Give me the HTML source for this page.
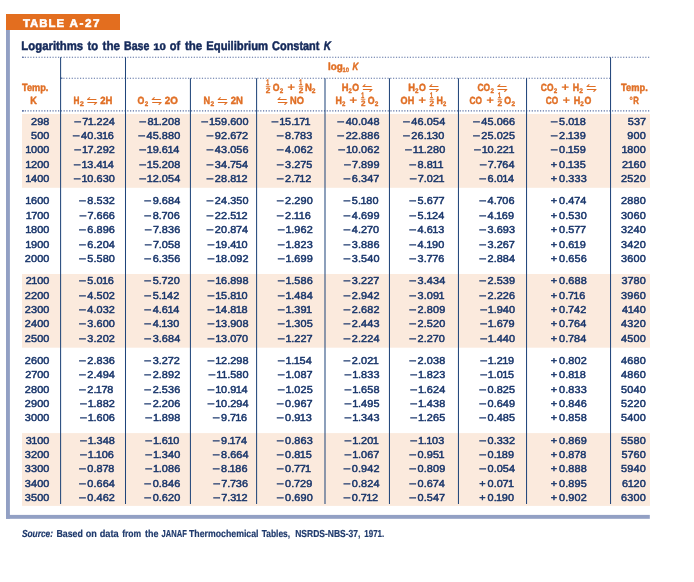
<!DOCTYPE html>
<html lang="en"><head><meta charset="utf-8"><title>Table A-27</title>
<style>
html,body{margin:0;padding:0;background:#fff}
body{width:694px;height:582px;overflow:hidden}
svg{display:block}
text{white-space:pre;text-rendering:geometricPrecision}
.t0{font-family:'Liberation Sans',sans-serif;font-size:11.4px;fill:#fff;font-weight:bold;stroke:#fff;stroke-width:0.55px;stroke-linejoin:round;letter-spacing:0.957px;}
.t1{font-family:'Liberation Sans',sans-serif;font-size:11.4px;fill:#fff;font-weight:bold;stroke:#fff;stroke-width:0.55px;stroke-linejoin:round;letter-spacing:1.454px;}
.t2{font-family:'Liberation Sans',sans-serif;font-size:12.5px;fill:#14295A;font-weight:bold;stroke:#14295A;stroke-width:0.5px;stroke-linejoin:round;}
.t3{font-family:'Liberation Sans',sans-serif;font-size:9.6px;fill:#14295A;font-weight:bold;stroke:#14295A;stroke-width:0.4px;stroke-linejoin:round;}
.t4{font-family:'Liberation Sans',sans-serif;font-size:12.5px;fill:#14295A;font-weight:bold;font-style:italic;stroke:#14295A;stroke-width:0.5px;stroke-linejoin:round;}
.t5{font-family:'Liberation Sans',sans-serif;font-size:10.4px;fill:#E06F25;font-weight:bold;stroke:#E06F25;stroke-width:0.45px;stroke-linejoin:round;}
.t6{font-family:'Liberation Sans',sans-serif;font-size:6.7px;fill:#E06F25;font-weight:bold;stroke:#E06F25;stroke-width:0.3px;stroke-linejoin:round;}
.t7{font-family:'DejaVu Sans',sans-serif;font-size:13.1px;fill:#E06F25;font-weight:normal;stroke:#E06F25;stroke-width:0.15px;stroke-linejoin:round;}
.t8{font-family:'Liberation Sans',sans-serif;font-size:8.0px;fill:#E06F25;font-weight:bold;stroke:#E06F25;stroke-width:0.4px;stroke-linejoin:round;}
.t9{font-family:'Liberation Sans',sans-serif;font-size:7.8px;fill:#E06F25;font-weight:bold;stroke:#E06F25;stroke-width:0.3px;stroke-linejoin:round;}
.t10{font-family:'Liberation Sans',sans-serif;font-size:11.5px;fill:#E06F25;font-weight:bold;}
.t11{font-family:'Liberation Sans',sans-serif;font-size:6.4px;fill:#E06F25;font-weight:bold;stroke:#E06F25;stroke-width:0.3px;stroke-linejoin:round;}
.t12{font-family:'Liberation Sans',sans-serif;font-size:10.4px;fill:#E06F25;font-weight:bold;font-style:italic;stroke:#E06F25;stroke-width:0.45px;stroke-linejoin:round;}
.t13{font-family:'Liberation Sans',sans-serif;font-size:10.4px;fill:#E06F25;font-weight:bold;stroke:#E06F25;stroke-width:0.3px;stroke-linejoin:round;}
.t14{font-family:'Liberation Sans',sans-serif;font-size:10.2px;fill:#1E396C;font-weight:bold;font-style:italic;stroke:#1E396C;stroke-width:0.2px;stroke-linejoin:round;}
.t15{font-family:'Liberation Sans',sans-serif;font-size:10.2px;fill:#1E396C;font-weight:bold;stroke:#1E396C;stroke-width:0.2px;stroke-linejoin:round;}
.d text{font-family:'Liberation Sans',sans-serif;font-size:10.9px;font-weight:normal;fill:#17346A;stroke:#17346A;stroke-width:0.5px;stroke-linejoin:round}
.m{font-size:13.5px;stroke-width:.25px}
</style></head><body>
<svg width="694" height="582" viewBox="0 0 694 582">
<rect width="694" height="582" fill="#fff"/>
<rect x="6" y="14" width="114" height="16" fill="#E36E1F"/>
<rect x="6" y="30" width="3.9" height="488.8" fill="#92A0C4"/>
<rect x="6" y="514.9" width="643.8" height="3.9" fill="#92A0C4"/>
<rect x="22" y="114.0" width="628" height="73.8" fill="#FBEADD"/>
<rect x="22" y="274.0" width="628" height="73.7" fill="#FBEADD"/>
<rect x="22" y="433.1" width="628" height="72.8" fill="#FBEADD"/>
<line x1="22" y1="57.3" x2="24" y2="57.3" stroke="#586EA1" stroke-width="1.1"/>
<line x1="22" y1="57.3" x2="650" y2="57.3" stroke="#586EA1" stroke-width="1.1" stroke-dasharray="1.2 1.57"/>
<line x1="60.6" y1="78.2" x2="62.6" y2="78.2" stroke="#586EA1" stroke-width="1.1"/>
<line x1="60.6" y1="78.2" x2="610.6" y2="78.2" stroke="#586EA1" stroke-width="1.1" stroke-dasharray="1.2 1.57"/>
<line x1="22" y1="110.9" x2="24" y2="110.9" stroke="#586EA1" stroke-width="1.1"/>
<line x1="22" y1="110.9" x2="650" y2="110.9" stroke="#586EA1" stroke-width="1.1" stroke-dasharray="1.2 1.57"/>
<line x1="60.6" y1="57.3" x2="60.6" y2="504" stroke="#20457A" stroke-width="1.03"/>
<line x1="125.5" y1="57.3" x2="125.5" y2="504" stroke="#20457A" stroke-width="1.03"/>
<line x1="190.42" y1="78.2" x2="190.42" y2="504" stroke="#20457A" stroke-width="1.03"/>
<line x1="256.6" y1="78.2" x2="256.6" y2="504" stroke="#20457A" stroke-width="1.03"/>
<line x1="325.0" y1="78.2" x2="325.0" y2="504" stroke="#20457A" stroke-width="1.03"/>
<line x1="389.45" y1="78.2" x2="389.45" y2="504" stroke="#20457A" stroke-width="1.03"/>
<line x1="458.45" y1="78.2" x2="458.45" y2="504" stroke="#20457A" stroke-width="1.03"/>
<line x1="526.55" y1="78.2" x2="526.55" y2="504" stroke="#20457A" stroke-width="1.03"/>
<line x1="610.55" y1="57.3" x2="610.55" y2="504" stroke="#20457A" stroke-width="1.03"/>
<text class="t0" transform="matrix(1 0 0 1 23.05 26.90)">TABLE</text>
<text class="t1" transform="matrix(1.03 0 0 1 69.59 26.90)">A-27</text>
<text class="t2" transform="matrix(0.908 0 0 1 21.37 49.90)">Logarithms</text>
<text class="t2" transform="matrix(0.901 0 0 1 87.39 49.90)">to</text>
<text class="t2" transform="matrix(0.932 0 0 1 102.59 49.90)">the</text>
<text class="t2" transform="matrix(0.848 0 0 1 124.00 49.90)">Base</text>
<text class="t3" transform="matrix(1.191 0 0 1 153.22 49.90)">10</text>
<text class="t2" transform="matrix(0.879 0 0 1 169.79 49.90)">of</text>
<text class="t2" transform="matrix(0.921 0 0 1 184.89 49.90)">the</text>
<text class="t2" transform="matrix(0.899 0 0 1 206.27 49.90)">Equilibrium</text>
<text class="t2" transform="matrix(0.874 0 0 1 272.07 49.90)">Constant</text>
<text class="t4" transform="matrix(0.805 0 0 1 323.72 49.90)">K</text>
<text class="t5" transform="matrix(0.883 0 0 1 22.00 91.00)">Temp.</text>
<text class="t5" transform="matrix(0.879 0 0 1 30.29 103.90)">K</text>
<text class="t5" transform="matrix(0.792 0 0 1 73.43 103.90)">H</text>
<text class="t6" transform="matrix(1.106 0 0 1 79.81 105.70)">2</text>
<text class="t7" transform="matrix(0.955 0 0 0.85 86.56 102.99)">↼</text>
<text class="t7" transform="matrix(0.996 0 0 0.85 86.73 106.19)">⇁</text>
<text class="t5" transform="matrix(0.915 0 0 1 100.28 103.90)">2H</text>
<text class="t5" transform="matrix(0.847 0 0 1 137.53 103.90)">O</text>
<text class="t6" transform="matrix(0.936 0 0 1 144.82 105.70)">2</text>
<text class="t7" transform="matrix(0.934 0 0 0.85 151.27 102.99)">↼</text>
<text class="t7" transform="matrix(0.976 0 0 0.85 151.44 106.19)">⇁</text>
<text class="t5" transform="matrix(0.939 0 0 1 164.77 103.90)">2O</text>
<text class="t5" transform="matrix(0.884 0 0 1 203.58 103.90)">N</text>
<text class="t6" transform="matrix(0.993 0 0 1 210.52 105.70)">2</text>
<text class="t7" transform="matrix(0.934 0 0 0.85 217.17 102.99)">↼</text>
<text class="t7" transform="matrix(0.976 0 0 0.85 217.34 106.19)">⇁</text>
<text class="t5" transform="matrix(0.915 0 0 1 230.78 103.90)">2N</text>
<text class="t8" transform="matrix(0.655 0 0 1 266.35 85.10)">1</text>
<text class="t9" transform="matrix(1.06 0 0 1 265.87 92.90)">2</text>
<line x1="265.80" y1="86.40" x2="270.50" y2="86.40" stroke="#E06F25" stroke-width="0.8"/>
<text class="t5" transform="matrix(0.834 0 0 1 272.73 91.00)">O</text>
<text class="t6" transform="matrix(0.936 0 0 1 279.72 92.80)">2</text>
<text class="t10" transform="matrix(1.179 0 0 1 287.23 91.30)">+</text>
<text class="t8" transform="matrix(0.655 0 0 1 299.15 85.10)">1</text>
<text class="t9" transform="matrix(1.06 0 0 1 298.67 92.90)">2</text>
<line x1="298.60" y1="86.40" x2="303.30" y2="86.40" stroke="#E06F25" stroke-width="0.8"/>
<text class="t5" transform="matrix(0.914 0 0 1 305.07 91.00)">N</text>
<text class="t6" transform="matrix(0.993 0 0 1 311.82 92.80)">2</text>
<text class="t7" transform="matrix(0.934 0 0 0.85 276.97 102.99)">↼</text>
<text class="t7" transform="matrix(0.976 0 0 0.85 277.14 106.19)">⇁</text>
<text class="t5" transform="matrix(0.892 0 0 1 289.98 103.90)">NO</text>
<text class="t5" transform="matrix(0.951 0 0 1 328.02 69.60)">log</text>
<text class="t11" transform="matrix(0.918 0 0 1 342.57 71.70)">10</text>
<text class="t12" transform="matrix(0.773 0 0 1 352.53 69.60)">K</text>
<text class="t5" transform="matrix(0.899 0 0 1 341.68 91.00)">H</text>
<text class="t6" transform="matrix(0.879 0 0 1 348.53 92.80)">2</text>
<text class="t5" transform="matrix(0.847 0 0 1 352.33 91.00)">O</text>
<text class="t7" transform="matrix(0.934 0 0 0.85 362.07 90.09)">↼</text>
<text class="t7" transform="matrix(0.976 0 0 0.85 362.24 93.29)">⇁</text>
<text class="t5" transform="matrix(0.853 0 0 1 335.50 103.90)">H</text>
<text class="t6" transform="matrix(0.908 0 0 1 341.93 105.70)">2</text>
<text class="t10" transform="matrix(1.196 0 0 1 349.32 104.20)">+</text>
<text class="t8" transform="matrix(0.655 0 0 1 361.30 98.00)">1</text>
<text class="t9" transform="matrix(1.036 0 0 1 360.88 105.80)">2</text>
<line x1="360.80" y1="99.30" x2="365.40" y2="99.30" stroke="#E06F25" stroke-width="0.8"/>
<text class="t5" transform="matrix(0.847 0 0 1 367.63 103.90)">O</text>
<text class="t6" transform="matrix(0.964 0 0 1 374.82 105.70)">2</text>
<text class="t5" transform="matrix(0.899 0 0 1 408.28 91.00)">H</text>
<text class="t6" transform="matrix(0.936 0 0 1 415.12 92.80)">2</text>
<text class="t5" transform="matrix(0.847 0 0 1 418.93 91.00)">O</text>
<text class="t7" transform="matrix(0.934 0 0 0.85 428.67 90.09)">↼</text>
<text class="t7" transform="matrix(0.976 0 0 0.85 428.84 93.29)">⇁</text>
<text class="t5" transform="matrix(0.871 0 0 1 400.62 103.90)">OH</text>
<text class="t10" transform="matrix(1.179 0 0 1 418.13 104.20)">+</text>
<text class="t8" transform="matrix(0.655 0 0 1 430.05 98.00)">1</text>
<text class="t9" transform="matrix(1.06 0 0 1 429.57 105.80)">2</text>
<line x1="429.50" y1="99.30" x2="434.20" y2="99.30" stroke="#E06F25" stroke-width="0.8"/>
<text class="t5" transform="matrix(0.853 0 0 1 436.50 103.90)">H</text>
<text class="t6" transform="matrix(0.879 0 0 1 443.03 105.70)">2</text>
<text class="t5" transform="matrix(0.81 0 0 1 477.44 91.00)">CO</text>
<text class="t6" transform="matrix(0.936 0 0 1 490.52 92.80)">2</text>
<text class="t7" transform="matrix(0.945 0 0 0.85 496.87 90.09)">↼</text>
<text class="t7" transform="matrix(0.986 0 0 0.85 497.04 93.29)">⇁</text>
<text class="t5" transform="matrix(0.797 0 0 1 469.54 103.90)">CO</text>
<text class="t10" transform="matrix(1.162 0 0 1 486.14 104.20)">+</text>
<text class="t8" transform="matrix(0.655 0 0 1 498.10 98.00)">1</text>
<text class="t9" transform="matrix(1.085 0 0 1 497.57 105.80)">2</text>
<line x1="497.50" y1="99.30" x2="502.30" y2="99.30" stroke="#E06F25" stroke-width="0.8"/>
<text class="t5" transform="matrix(0.847 0 0 1 504.33 103.90)">O</text>
<text class="t6" transform="matrix(0.964 0 0 1 511.42 105.70)">2</text>
<text class="t5" transform="matrix(0.81 0 0 1 540.84 91.00)">CO</text>
<text class="t6" transform="matrix(0.936 0 0 1 553.72 92.80)">2</text>
<text class="t10" transform="matrix(1.179 0 0 1 561.23 91.30)">+</text>
<text class="t5" transform="matrix(0.853 0 0 1 572.80 91.00)">H</text>
<text class="t6" transform="matrix(0.993 0 0 1 579.32 92.80)">2</text>
<text class="t7" transform="matrix(0.934 0 0 0.85 585.97 90.09)">↼</text>
<text class="t7" transform="matrix(0.976 0 0 0.85 586.14 93.29)">⇁</text>
<text class="t5" transform="matrix(0.797 0 0 1 545.74 103.90)">CO</text>
<text class="t10" transform="matrix(1.144 0 0 1 562.55 104.20)">+</text>
<text class="t5" transform="matrix(0.868 0 0 1 573.79 103.90)">H</text>
<text class="t6" transform="matrix(0.936 0 0 1 580.32 105.70)">2</text>
<text class="t5" transform="matrix(0.847 0 0 1 584.43 103.90)">O</text>
<text class="t5" transform="matrix(0.893 0 0 1 621.10 91.00)">Temp.</text>
<text class="t13" transform="matrix(0.788 0 0 1 629.56 103.90)">°</text>
<text class="t5" transform="matrix(0.752 0 0 1 633.25 103.90)">R</text>
<g class="d" transform="scale(1 0.93)">
<text x="30.95 37.15 43.35" y="134.41">298</text>
<text x="73.75 82.3 87.65 93.45 96.45 102.65 108.85" y="134.41"><tspan class="m" dy="1.1">−</tspan><tspan dy="-1.1">71.224</tspan></text>
<text x="138.65 147.45 153.05 158.85 161.85 168.05 174.25" y="134.41"><tspan class="m" dy="1.1">−</tspan><tspan dy="-1.1">81.208</tspan></text>
<text x="200.75 208.95 214.75 220.95 227.15 230.15 236.35 242.55" y="134.41"><tspan class="m" dy="1.1">−</tspan><tspan dy="-1.1">159.600</tspan></text>
<text x="271.05 279.25 285.05 291.25 293.65 299.2 304.55" y="134.41"><tspan class="m" dy="1.1">−</tspan><tspan dy="-1.1">15.171</tspan></text>
<text x="336.85 345.65 351.85 358.05 361.05 367.25 373.45" y="134.41"><tspan class="m" dy="1.1">−</tspan><tspan dy="-1.1">40.048</tspan></text>
<text x="402.55 411.35 417.55 423.75 426.75 432.95 439.15" y="134.41"><tspan class="m" dy="1.1">−</tspan><tspan dy="-1.1">46.054</tspan></text>
<text x="472.45 481.25 487.45 493.65 496.65 502.85 509.05" y="134.41"><tspan class="m" dy="1.1">−</tspan><tspan dy="-1.1">45.066</tspan></text>
<text x="550.25 559.05 565.25 568.25 573.85 579.65" y="134.41"><tspan class="m" dy="1.1">−</tspan><tspan dy="-1.1">5.018</tspan></text>
<text x="627.75 633.95 639.9" y="134.41">537</text>
<text x="30.95 37.15 43.35" y="149.57">500</text>
<text x="72.25 81.05 87.25 93.45 96.45 102.05 107.85" y="149.57"><tspan class="m" dy="1.1">−</tspan><tspan dy="-1.1">40.316</tspan></text>
<text x="137.65 146.45 152.65 158.85 161.85 168.05 174.25" y="149.57"><tspan class="m" dy="1.1">−</tspan><tspan dy="-1.1">45.880</tspan></text>
<text x="205.95 214.75 220.95 227.15 230.15 236.1 242.05" y="149.57"><tspan class="m" dy="1.1">−</tspan><tspan dy="-1.1">92.672</tspan></text>
<text x="276.25 285.05 291.25 294 299.95 306.15" y="149.57"><tspan class="m" dy="1.1">−</tspan><tspan dy="-1.1">8.783</tspan></text>
<text x="336.85 345.65 351.85 358.05 361.05 367.25 373.45" y="149.57"><tspan class="m" dy="1.1">−</tspan><tspan dy="-1.1">22.886</tspan></text>
<text x="402.55 411.35 417.55 423.75 426.15 431.95 438.15" y="149.57"><tspan class="m" dy="1.1">−</tspan><tspan dy="-1.1">26.130</tspan></text>
<text x="472.45 481.25 487.45 493.65 496.65 502.85 509.05" y="149.57"><tspan class="m" dy="1.1">−</tspan><tspan dy="-1.1">25.025</tspan></text>
<text x="550.25 559.05 565.25 567.65 573.45 579.65" y="149.57"><tspan class="m" dy="1.1">−</tspan><tspan dy="-1.1">2.139</tspan></text>
<text x="627.25 633.45 639.65" y="149.57">900</text>
<text x="25.15 30.95 37.15 43.35" y="164.52">1000</text>
<text x="73.75 81.95 87.5 93.45 96.45 102.65 108.85" y="164.52"><tspan class="m" dy="1.1">−</tspan><tspan dy="-1.1">17.292</tspan></text>
<text x="138.65 146.85 152.65 158.85 161.85 167.45 173.25" y="164.52"><tspan class="m" dy="1.1">−</tspan><tspan dy="-1.1">19.614</tspan></text>
<text x="205.95 214.75 220.95 227.15 230.15 236.35 242.55" y="164.52"><tspan class="m" dy="1.1">−</tspan><tspan dy="-1.1">43.056</tspan></text>
<text x="276.25 285.05 291.25 294.25 300.45 306.65" y="164.52"><tspan class="m" dy="1.1">−</tspan><tspan dy="-1.1">4.062</tspan></text>
<text x="337.85 346.05 351.85 358.05 361.05 367.25 373.45" y="164.52"><tspan class="m" dy="1.1">−</tspan><tspan dy="-1.1">10.062</tspan></text>
<text x="404.55 412.75 417.95 423.75 426.75 432.95 439.15" y="164.52"><tspan class="m" dy="1.1">−</tspan><tspan dy="-1.1">11.280</tspan></text>
<text x="473.45 481.65 487.45 493.65 496.65 502.85 508.45" y="164.52"><tspan class="m" dy="1.1">−</tspan><tspan dy="-1.1">10.221</tspan></text>
<text x="550.25 559.05 565.25 567.65 573.45 579.65" y="164.52"><tspan class="m" dy="1.1">−</tspan><tspan dy="-1.1">0.159</tspan></text>
<text x="621.45 627.25 633.45 639.65" y="164.52">1800</text>
<text x="25.15 30.95 37.15 43.35" y="180.54">1200</text>
<text x="73.25 81.45 87.25 93.45 96.45 102.05 107.85" y="180.54"><tspan class="m" dy="1.1">−</tspan><tspan dy="-1.1">13.414</tspan></text>
<text x="138.65 146.85 152.65 158.85 161.85 168.05 174.25" y="180.54"><tspan class="m" dy="1.1">−</tspan><tspan dy="-1.1">15.208</tspan></text>
<text x="205.95 214.75 220.95 227.15 229.9 235.85 242.05" y="180.54"><tspan class="m" dy="1.1">−</tspan><tspan dy="-1.1">34.754</tspan></text>
<text x="276.25 285.05 291.25 294.25 300.2 306.15" y="180.54"><tspan class="m" dy="1.1">−</tspan><tspan dy="-1.1">3.275</tspan></text>
<text x="343.55 352.1 358.05 361.05 367.25 373.45" y="180.54"><tspan class="m" dy="1.1">−</tspan><tspan dy="-1.1">7.899</tspan></text>
<text x="408.75 417.55 423.75 426.75 432.35 437.55" y="180.54"><tspan class="m" dy="1.1">−</tspan><tspan dy="-1.1">8.811</tspan></text>
<text x="479.15 487.7 493.65 496.4 502.35 508.55" y="180.54"><tspan class="m" dy="1.1">−</tspan><tspan dy="-1.1">7.764</tspan></text>
<text x="550.85 559.05 565.25 567.65 573.45 579.65" y="180.54">+0.135</text>
<text x="622.05 627.65 633.45 639.65" y="180.54">2160</text>
<text x="25.15 30.95 37.15 43.35" y="195.48">1400</text>
<text x="73.25 81.45 87.25 93.45 96.45 102.65 108.85" y="195.48"><tspan class="m" dy="1.1">−</tspan><tspan dy="-1.1">10.630</tspan></text>
<text x="138.65 146.85 152.65 158.85 161.85 168.05 174.25" y="195.48"><tspan class="m" dy="1.1">−</tspan><tspan dy="-1.1">12.054</tspan></text>
<text x="205.95 214.75 220.95 227.15 230.15 235.75 241.55" y="195.48"><tspan class="m" dy="1.1">−</tspan><tspan dy="-1.1">28.812</tspan></text>
<text x="276.25 285.05 291.25 294 299.35 305.15" y="195.48"><tspan class="m" dy="1.1">−</tspan><tspan dy="-1.1">2.712</tspan></text>
<text x="343.05 351.85 358.05 361.05 367.25 373.2" y="195.48"><tspan class="m" dy="1.1">−</tspan><tspan dy="-1.1">6.347</tspan></text>
<text x="409.25 417.8 423.75 426.75 432.95 438.55" y="195.48"><tspan class="m" dy="1.1">−</tspan><tspan dy="-1.1">7.021</tspan></text>
<text x="478.65 487.45 493.65 496.65 502.25 508.05" y="195.48"><tspan class="m" dy="1.1">−</tspan><tspan dy="-1.1">6.014</tspan></text>
<text x="550.85 559.05 565.25 568.25 574.45 580.65" y="195.48">+0.333</text>
<text x="621.05 627.25 633.45 639.65" y="195.48">2520</text>
<text x="25.15 30.95 37.15 43.35" y="219.35">1600</text>
<text x="78.45 87.25 93.45 96.45 102.65 108.85" y="219.35"><tspan class="m" dy="1.1">−</tspan><tspan dy="-1.1">8.532</tspan></text>
<text x="143.85 152.65 158.85 161.85 168.05 174.25" y="219.35"><tspan class="m" dy="1.1">−</tspan><tspan dy="-1.1">9.684</tspan></text>
<text x="205.95 214.75 220.95 227.15 230.15 236.35 242.55" y="219.35"><tspan class="m" dy="1.1">−</tspan><tspan dy="-1.1">24.350</tspan></text>
<text x="276.25 285.05 291.25 294.25 300.45 306.65" y="219.35"><tspan class="m" dy="1.1">−</tspan><tspan dy="-1.1">2.290</tspan></text>
<text x="343.05 351.85 358.05 360.45 366.25 372.45" y="219.35"><tspan class="m" dy="1.1">−</tspan><tspan dy="-1.1">5.180</tspan></text>
<text x="408.75 417.55 423.75 426.75 432.7 438.4" y="219.35"><tspan class="m" dy="1.1">−</tspan><tspan dy="-1.1">5.677</tspan></text>
<text x="478.65 487.45 493.65 496.4 502.35 508.55" y="219.35"><tspan class="m" dy="1.1">−</tspan><tspan dy="-1.1">4.706</tspan></text>
<text x="550.85 559.05 565.25 568.25 574.2 580.15" y="219.35">+0.474</text>
<text x="621.05 627.25 633.45 639.65" y="219.35">2880</text>
<text x="25.65 31.2 37.15 43.35" y="235.48">1700</text>
<text x="78.95 87.5 93.45 96.45 102.65 108.85" y="235.48"><tspan class="m" dy="1.1">−</tspan><tspan dy="-1.1">7.666</tspan></text>
<text x="143.85 152.65 158.85 161.6 167.55 173.75" y="235.48"><tspan class="m" dy="1.1">−</tspan><tspan dy="-1.1">8.706</tspan></text>
<text x="205.95 214.75 220.95 227.15 230.15 235.75 241.55" y="235.48"><tspan class="m" dy="1.1">−</tspan><tspan dy="-1.1">22.512</tspan></text>
<text x="276.25 285.05 291.25 293.65 298.85 304.65" y="235.48"><tspan class="m" dy="1.1">−</tspan><tspan dy="-1.1">2.116</tspan></text>
<text x="343.05 351.85 358.05 361.05 367.25 373.45" y="235.48"><tspan class="m" dy="1.1">−</tspan><tspan dy="-1.1">4.699</tspan></text>
<text x="408.75 417.55 423.75 426.15 431.95 438.15" y="235.48"><tspan class="m" dy="1.1">−</tspan><tspan dy="-1.1">5.124</tspan></text>
<text x="478.65 487.45 493.65 496.05 501.85 508.05" y="235.48"><tspan class="m" dy="1.1">−</tspan><tspan dy="-1.1">4.169</tspan></text>
<text x="550.85 559.05 565.25 568.25 574.45 580.65" y="235.48">+0.530</text>
<text x="621.05 627.25 633.45 639.65" y="235.48">3060</text>
<text x="25.15 30.95 37.15 43.35" y="250.54">1800</text>
<text x="78.45 87.25 93.45 96.45 102.65 108.85" y="250.54"><tspan class="m" dy="1.1">−</tspan><tspan dy="-1.1">6.896</tspan></text>
<text x="144.35 152.9 158.85 161.85 168.05 174.25" y="250.54"><tspan class="m" dy="1.1">−</tspan><tspan dy="-1.1">7.836</tspan></text>
<text x="205.95 214.75 220.95 227.15 230.15 236.1 242.05" y="250.54"><tspan class="m" dy="1.1">−</tspan><tspan dy="-1.1">20.874</tspan></text>
<text x="277.25 285.45 291.25 294.25 300.45 306.65" y="250.54"><tspan class="m" dy="1.1">−</tspan><tspan dy="-1.1">1.962</tspan></text>
<text x="343.05 351.85 358.05 361.05 367 372.95" y="250.54"><tspan class="m" dy="1.1">−</tspan><tspan dy="-1.1">4.270</tspan></text>
<text x="408.75 417.55 423.75 426.75 432.35 438.15" y="250.54"><tspan class="m" dy="1.1">−</tspan><tspan dy="-1.1">4.613</tspan></text>
<text x="478.65 487.45 493.65 496.65 502.85 509.05" y="250.54"><tspan class="m" dy="1.1">−</tspan><tspan dy="-1.1">3.693</tspan></text>
<text x="550.85 559.05 565.25 568.25 574.2 579.9" y="250.54">+0.577</text>
<text x="621.05 627.25 633.45 639.65" y="250.54">3240</text>
<text x="25.15 30.95 37.15 43.35" y="266.67">1900</text>
<text x="78.45 87.25 93.45 96.45 102.65 108.85" y="266.67"><tspan class="m" dy="1.1">−</tspan><tspan dy="-1.1">6.204</tspan></text>
<text x="144.35 152.9 158.85 161.85 168.05 174.25" y="266.67"><tspan class="m" dy="1.1">−</tspan><tspan dy="-1.1">7.058</tspan></text>
<text x="206.95 215.15 220.95 227.15 230.15 235.75 241.55" y="266.67"><tspan class="m" dy="1.1">−</tspan><tspan dy="-1.1">19.410</tspan></text>
<text x="277.25 285.45 291.25 294.25 300.45 306.65" y="266.67"><tspan class="m" dy="1.1">−</tspan><tspan dy="-1.1">1.823</tspan></text>
<text x="343.05 351.85 358.05 361.05 367.25 373.45" y="266.67"><tspan class="m" dy="1.1">−</tspan><tspan dy="-1.1">3.886</tspan></text>
<text x="408.75 417.55 423.75 426.15 431.95 438.15" y="266.67"><tspan class="m" dy="1.1">−</tspan><tspan dy="-1.1">4.190</tspan></text>
<text x="478.65 487.45 493.65 496.65 502.85 508.8" y="266.67"><tspan class="m" dy="1.1">−</tspan><tspan dy="-1.1">3.267</tspan></text>
<text x="550.85 559.05 565.25 568.25 573.85 579.65" y="266.67">+0.619</text>
<text x="621.05 627.25 633.45 639.65" y="266.67">3420</text>
<text x="24.75 30.95 37.15 43.35" y="281.94">2000</text>
<text x="78.45 87.25 93.45 96.45 102.65 108.85" y="281.94"><tspan class="m" dy="1.1">−</tspan><tspan dy="-1.1">5.580</tspan></text>
<text x="143.85 152.65 158.85 161.85 168.05 174.25" y="281.94"><tspan class="m" dy="1.1">−</tspan><tspan dy="-1.1">6.356</tspan></text>
<text x="206.95 215.15 220.95 227.15 230.15 236.35 242.55" y="281.94"><tspan class="m" dy="1.1">−</tspan><tspan dy="-1.1">18.092</tspan></text>
<text x="277.25 285.45 291.25 294.25 300.45 306.65" y="281.94"><tspan class="m" dy="1.1">−</tspan><tspan dy="-1.1">1.699</tspan></text>
<text x="343.05 351.85 358.05 361.05 367.25 373.45" y="281.94"><tspan class="m" dy="1.1">−</tspan><tspan dy="-1.1">3.540</tspan></text>
<text x="408.75 417.55 423.75 426.5 432.2 438.15" y="281.94"><tspan class="m" dy="1.1">−</tspan><tspan dy="-1.1">3.776</tspan></text>
<text x="478.65 487.45 493.65 496.65 502.85 509.05" y="281.94"><tspan class="m" dy="1.1">−</tspan><tspan dy="-1.1">2.884</tspan></text>
<text x="550.85 559.05 565.25 568.25 574.45 580.65" y="281.94">+0.656</text>
<text x="621.05 627.25 633.45 639.65" y="281.94">3600</text>
<text x="25.75 31.35 37.15 43.35" y="305.38">2100</text>
<text x="78.45 87.25 93.45 96.45 102.05 107.85" y="305.38"><tspan class="m" dy="1.1">−</tspan><tspan dy="-1.1">5.016</tspan></text>
<text x="143.85 152.65 158.85 161.6 167.55 173.75" y="305.38"><tspan class="m" dy="1.1">−</tspan><tspan dy="-1.1">5.720</tspan></text>
<text x="206.95 215.15 220.95 227.15 230.15 236.35 242.55" y="305.38"><tspan class="m" dy="1.1">−</tspan><tspan dy="-1.1">16.898</tspan></text>
<text x="277.25 285.45 291.25 294.25 300.45 306.65" y="305.38"><tspan class="m" dy="1.1">−</tspan><tspan dy="-1.1">1.586</tspan></text>
<text x="343.05 351.85 358.05 361.05 367.25 373.2" y="305.38"><tspan class="m" dy="1.1">−</tspan><tspan dy="-1.1">3.227</tspan></text>
<text x="408.75 417.55 423.75 426.75 432.95 439.15" y="305.38"><tspan class="m" dy="1.1">−</tspan><tspan dy="-1.1">3.434</tspan></text>
<text x="478.65 487.45 493.65 496.65 502.85 509.05" y="305.38"><tspan class="m" dy="1.1">−</tspan><tspan dy="-1.1">2.539</tspan></text>
<text x="550.85 559.05 565.25 568.25 574.45 580.65" y="305.38">+0.688</text>
<text x="621.55 627.5 633.45 639.65" y="305.38">3780</text>
<text x="24.75 30.95 37.15 43.35" y="321.51">2200</text>
<text x="78.45 87.25 93.45 96.45 102.65 108.85" y="321.51"><tspan class="m" dy="1.1">−</tspan><tspan dy="-1.1">4.502</tspan></text>
<text x="143.85 152.65 158.85 161.25 167.05 173.25" y="321.51"><tspan class="m" dy="1.1">−</tspan><tspan dy="-1.1">5.142</tspan></text>
<text x="206.95 215.15 220.95 227.15 230.15 235.75 241.55" y="321.51"><tspan class="m" dy="1.1">−</tspan><tspan dy="-1.1">15.810</tspan></text>
<text x="277.25 285.45 291.25 294.25 300.45 306.65" y="321.51"><tspan class="m" dy="1.1">−</tspan><tspan dy="-1.1">1.484</tspan></text>
<text x="343.05 351.85 358.05 361.05 367.25 373.45" y="321.51"><tspan class="m" dy="1.1">−</tspan><tspan dy="-1.1">2.942</tspan></text>
<text x="408.75 417.55 423.75 426.75 432.95 438.55" y="321.51"><tspan class="m" dy="1.1">−</tspan><tspan dy="-1.1">3.091</tspan></text>
<text x="478.65 487.45 493.65 496.65 502.85 509.05" y="321.51"><tspan class="m" dy="1.1">−</tspan><tspan dy="-1.1">2.226</tspan></text>
<text x="550.85 559.05 565.25 568 573.35 579.15" y="321.51">+0.716</text>
<text x="621.05 627.25 633.45 639.65" y="321.51">3960</text>
<text x="24.75 30.95 37.15 43.35" y="336.56">2300</text>
<text x="78.45 87.25 93.45 96.45 102.65 108.85" y="336.56"><tspan class="m" dy="1.1">−</tspan><tspan dy="-1.1">4.032</tspan></text>
<text x="143.85 152.65 158.85 161.85 167.45 173.25" y="336.56"><tspan class="m" dy="1.1">−</tspan><tspan dy="-1.1">4.614</tspan></text>
<text x="206.95 215.15 220.95 227.15 230.15 235.75 241.55" y="336.56"><tspan class="m" dy="1.1">−</tspan><tspan dy="-1.1">14.818</tspan></text>
<text x="277.25 285.45 291.25 294.25 300.45 306.05" y="336.56"><tspan class="m" dy="1.1">−</tspan><tspan dy="-1.1">1.391</tspan></text>
<text x="343.05 351.85 358.05 361.05 367.25 373.45" y="336.56"><tspan class="m" dy="1.1">−</tspan><tspan dy="-1.1">2.682</tspan></text>
<text x="408.75 417.55 423.75 426.75 432.95 439.15" y="336.56"><tspan class="m" dy="1.1">−</tspan><tspan dy="-1.1">2.809</tspan></text>
<text x="479.65 487.85 493.65 496.65 502.85 509.05" y="336.56"><tspan class="m" dy="1.1">−</tspan><tspan dy="-1.1">1.940</tspan></text>
<text x="550.85 559.05 565.25 568 573.95 580.15" y="336.56">+0.742</text>
<text x="622.05 627.65 633.45 639.65" y="336.56">4140</text>
<text x="24.75 30.95 37.15 43.35" y="351.61">2400</text>
<text x="78.45 87.25 93.45 96.45 102.65 108.85" y="351.61"><tspan class="m" dy="1.1">−</tspan><tspan dy="-1.1">3.600</tspan></text>
<text x="143.85 152.65 158.85 161.25 167.05 173.25" y="351.61"><tspan class="m" dy="1.1">−</tspan><tspan dy="-1.1">4.130</tspan></text>
<text x="206.95 215.15 220.95 227.15 230.15 236.35 242.55" y="351.61"><tspan class="m" dy="1.1">−</tspan><tspan dy="-1.1">13.908</tspan></text>
<text x="277.25 285.45 291.25 294.25 300.45 306.65" y="351.61"><tspan class="m" dy="1.1">−</tspan><tspan dy="-1.1">1.305</tspan></text>
<text x="343.05 351.85 358.05 361.05 367.25 373.45" y="351.61"><tspan class="m" dy="1.1">−</tspan><tspan dy="-1.1">2.443</tspan></text>
<text x="408.75 417.55 423.75 426.75 432.95 439.15" y="351.61"><tspan class="m" dy="1.1">−</tspan><tspan dy="-1.1">2.520</tspan></text>
<text x="479.65 487.85 493.65 496.65 502.6 508.55" y="351.61"><tspan class="m" dy="1.1">−</tspan><tspan dy="-1.1">1.679</tspan></text>
<text x="550.85 559.05 565.25 568 573.95 580.15" y="351.61">+0.764</text>
<text x="621.05 627.25 633.45 639.65" y="351.61">4320</text>
<text x="24.75 30.95 37.15 43.35" y="367.74">2500</text>
<text x="78.45 87.25 93.45 96.45 102.65 108.85" y="367.74"><tspan class="m" dy="1.1">−</tspan><tspan dy="-1.1">3.202</tspan></text>
<text x="143.85 152.65 158.85 161.85 168.05 174.25" y="367.74"><tspan class="m" dy="1.1">−</tspan><tspan dy="-1.1">3.684</tspan></text>
<text x="206.95 215.15 220.95 227.15 230.15 236.1 242.05" y="367.74"><tspan class="m" dy="1.1">−</tspan><tspan dy="-1.1">13.070</tspan></text>
<text x="277.25 285.45 291.25 294.25 300.45 306.4" y="367.74"><tspan class="m" dy="1.1">−</tspan><tspan dy="-1.1">1.227</tspan></text>
<text x="343.05 351.85 358.05 361.05 367.25 373.45" y="367.74"><tspan class="m" dy="1.1">−</tspan><tspan dy="-1.1">2.224</tspan></text>
<text x="408.75 417.55 423.75 426.75 432.7 438.65" y="367.74"><tspan class="m" dy="1.1">−</tspan><tspan dy="-1.1">2.270</tspan></text>
<text x="479.65 487.85 493.65 496.65 502.85 509.05" y="367.74"><tspan class="m" dy="1.1">−</tspan><tspan dy="-1.1">1.440</tspan></text>
<text x="550.85 559.05 565.25 568 573.95 580.15" y="367.74">+0.784</text>
<text x="621.05 627.25 633.45 639.65" y="367.74">4500</text>
<text x="24.75 30.95 37.15 43.35" y="391.4">2600</text>
<text x="78.45 87.25 93.45 96.45 102.65 108.85" y="391.4"><tspan class="m" dy="1.1">−</tspan><tspan dy="-1.1">2.836</tspan></text>
<text x="143.85 152.65 158.85 161.85 167.8 173.75" y="391.4"><tspan class="m" dy="1.1">−</tspan><tspan dy="-1.1">3.272</tspan></text>
<text x="206.95 215.15 220.95 227.15 230.15 236.35 242.55" y="391.4"><tspan class="m" dy="1.1">−</tspan><tspan dy="-1.1">12.298</tspan></text>
<text x="277.25 285.45 291.25 293.65 299.45 305.65" y="391.4"><tspan class="m" dy="1.1">−</tspan><tspan dy="-1.1">1.154</tspan></text>
<text x="343.05 351.85 358.05 361.05 367.25 372.85" y="391.4"><tspan class="m" dy="1.1">−</tspan><tspan dy="-1.1">2.021</tspan></text>
<text x="408.75 417.55 423.75 426.75 432.95 439.15" y="391.4"><tspan class="m" dy="1.1">−</tspan><tspan dy="-1.1">2.038</tspan></text>
<text x="479.65 487.85 493.65 496.65 502.25 508.05" y="391.4"><tspan class="m" dy="1.1">−</tspan><tspan dy="-1.1">1.219</tspan></text>
<text x="550.85 559.05 565.25 568.25 574.45 580.65" y="391.4">+0.802</text>
<text x="621.05 627.25 633.45 639.65" y="391.4">4680</text>
<text x="25.25 31.2 37.15 43.35" y="406.45">2700</text>
<text x="78.45 87.25 93.45 96.45 102.65 108.85" y="406.45"><tspan class="m" dy="1.1">−</tspan><tspan dy="-1.1">2.494</tspan></text>
<text x="143.85 152.65 158.85 161.85 168.05 174.25" y="406.45"><tspan class="m" dy="1.1">−</tspan><tspan dy="-1.1">2.892</tspan></text>
<text x="207.95 216.15 221.35 227.15 230.15 236.35 242.55" y="406.45"><tspan class="m" dy="1.1">−</tspan><tspan dy="-1.1">11.580</tspan></text>
<text x="277.25 285.45 291.25 294.25 300.45 306.4" y="406.45"><tspan class="m" dy="1.1">−</tspan><tspan dy="-1.1">1.087</tspan></text>
<text x="344.05 352.25 358.05 361.05 367.25 373.45" y="406.45"><tspan class="m" dy="1.1">−</tspan><tspan dy="-1.1">1.833</tspan></text>
<text x="409.75 417.95 423.75 426.75 432.95 439.15" y="406.45"><tspan class="m" dy="1.1">−</tspan><tspan dy="-1.1">1.823</tspan></text>
<text x="479.65 487.85 493.65 496.65 502.25 508.05" y="406.45"><tspan class="m" dy="1.1">−</tspan><tspan dy="-1.1">1.015</tspan></text>
<text x="550.85 559.05 565.25 568.25 573.85 579.65" y="406.45">+0.818</text>
<text x="621.05 627.25 633.45 639.65" y="406.45">4860</text>
<text x="24.75 30.95 37.15 43.35" y="422.58">2800</text>
<text x="78.45 87.25 93.45 95.85 101.4 107.35" y="422.58"><tspan class="m" dy="1.1">−</tspan><tspan dy="-1.1">2.178</tspan></text>
<text x="143.85 152.65 158.85 161.85 168.05 174.25" y="422.58"><tspan class="m" dy="1.1">−</tspan><tspan dy="-1.1">2.536</tspan></text>
<text x="206.95 215.15 220.95 227.15 230.15 235.75 241.55" y="422.58"><tspan class="m" dy="1.1">−</tspan><tspan dy="-1.1">10.914</tspan></text>
<text x="277.25 285.45 291.25 294.25 300.45 306.65" y="422.58"><tspan class="m" dy="1.1">−</tspan><tspan dy="-1.1">1.025</tspan></text>
<text x="344.05 352.25 358.05 361.05 367.25 373.45" y="422.58"><tspan class="m" dy="1.1">−</tspan><tspan dy="-1.1">1.658</tspan></text>
<text x="409.75 417.95 423.75 426.75 432.95 439.15" y="422.58"><tspan class="m" dy="1.1">−</tspan><tspan dy="-1.1">1.624</tspan></text>
<text x="478.65 487.45 493.65 496.65 502.85 509.05" y="422.58"><tspan class="m" dy="1.1">−</tspan><tspan dy="-1.1">0.825</tspan></text>
<text x="550.85 559.05 565.25 568.25 574.45 580.65" y="422.58">+0.833</text>
<text x="621.05 627.25 633.45 639.65" y="422.58">5040</text>
<text x="24.75 30.95 37.15 43.35" y="437.63">2900</text>
<text x="79.45 87.65 93.45 96.45 102.65 108.85" y="437.63"><tspan class="m" dy="1.1">−</tspan><tspan dy="-1.1">1.882</tspan></text>
<text x="143.85 152.65 158.85 161.85 168.05 174.25" y="437.63"><tspan class="m" dy="1.1">−</tspan><tspan dy="-1.1">2.206</tspan></text>
<text x="206.95 215.15 220.95 227.15 230.15 236.35 242.55" y="437.63"><tspan class="m" dy="1.1">−</tspan><tspan dy="-1.1">10.294</tspan></text>
<text x="276.25 285.05 291.25 294.25 300.45 306.4" y="437.63"><tspan class="m" dy="1.1">−</tspan><tspan dy="-1.1">0.967</tspan></text>
<text x="344.05 352.25 358.05 361.05 367.25 373.45" y="437.63"><tspan class="m" dy="1.1">−</tspan><tspan dy="-1.1">1.495</tspan></text>
<text x="409.75 417.95 423.75 426.75 432.95 439.15" y="437.63"><tspan class="m" dy="1.1">−</tspan><tspan dy="-1.1">1.438</tspan></text>
<text x="478.65 487.45 493.65 496.65 502.85 509.05" y="437.63"><tspan class="m" dy="1.1">−</tspan><tspan dy="-1.1">0.649</tspan></text>
<text x="550.85 559.05 565.25 568.25 574.45 580.65" y="437.63">+0.846</text>
<text x="621.05 627.25 633.45 639.65" y="437.63">5220</text>
<text x="24.75 30.95 37.15 43.35" y="452.69">3000</text>
<text x="79.45 87.65 93.45 96.45 102.65 108.85" y="452.69"><tspan class="m" dy="1.1">−</tspan><tspan dy="-1.1">1.606</tspan></text>
<text x="144.85 153.05 158.85 161.85 168.05 174.25" y="452.69"><tspan class="m" dy="1.1">−</tspan><tspan dy="-1.1">1.898</tspan></text>
<text x="212.15 220.95 227.15 229.9 235.25 241.05" y="452.69"><tspan class="m" dy="1.1">−</tspan><tspan dy="-1.1">9.716</tspan></text>
<text x="276.25 285.05 291.25 294.25 299.85 305.65" y="452.69"><tspan class="m" dy="1.1">−</tspan><tspan dy="-1.1">0.913</tspan></text>
<text x="344.05 352.25 358.05 361.05 367.25 373.45" y="452.69"><tspan class="m" dy="1.1">−</tspan><tspan dy="-1.1">1.343</tspan></text>
<text x="409.75 417.95 423.75 426.75 432.95 439.15" y="452.69"><tspan class="m" dy="1.1">−</tspan><tspan dy="-1.1">1.265</tspan></text>
<text x="478.65 487.45 493.65 496.65 502.85 509.05" y="452.69"><tspan class="m" dy="1.1">−</tspan><tspan dy="-1.1">0.485</tspan></text>
<text x="550.85 559.05 565.25 568.25 574.45 580.65" y="452.69">+0.858</text>
<text x="621.05 627.25 633.45 639.65" y="452.69">5400</text>
<text x="25.75 31.35 37.15 43.35" y="477.42">3100</text>
<text x="79.45 87.65 93.45 96.45 102.65 108.85" y="477.42"><tspan class="m" dy="1.1">−</tspan><tspan dy="-1.1">1.348</tspan></text>
<text x="144.85 153.05 158.85 161.85 167.45 173.25" y="477.42"><tspan class="m" dy="1.1">−</tspan><tspan dy="-1.1">1.610</tspan></text>
<text x="212.15 220.95 227.15 229.55 235.1 241.05" y="477.42"><tspan class="m" dy="1.1">−</tspan><tspan dy="-1.1">9.174</tspan></text>
<text x="276.25 285.05 291.25 294.25 300.45 306.65" y="477.42"><tspan class="m" dy="1.1">−</tspan><tspan dy="-1.1">0.863</tspan></text>
<text x="344.05 352.25 358.05 361.05 367.25 372.85" y="477.42"><tspan class="m" dy="1.1">−</tspan><tspan dy="-1.1">1.201</tspan></text>
<text x="409.75 417.95 423.75 426.15 431.95 438.15" y="477.42"><tspan class="m" dy="1.1">−</tspan><tspan dy="-1.1">1.103</tspan></text>
<text x="478.65 487.45 493.65 496.65 502.85 509.05" y="477.42"><tspan class="m" dy="1.1">−</tspan><tspan dy="-1.1">0.332</tspan></text>
<text x="550.85 559.05 565.25 568.25 574.45 580.65" y="477.42">+0.869</text>
<text x="621.05 627.25 633.45 639.65" y="477.42">5580</text>
<text x="24.75 30.95 37.15 43.35" y="492.47">3200</text>
<text x="79.45 87.65 93.45 95.85 101.65 107.85" y="492.47"><tspan class="m" dy="1.1">−</tspan><tspan dy="-1.1">1.106</tspan></text>
<text x="144.85 153.05 158.85 161.85 168.05 174.25" y="492.47"><tspan class="m" dy="1.1">−</tspan><tspan dy="-1.1">1.340</tspan></text>
<text x="212.15 220.95 227.15 230.15 236.35 242.55" y="492.47"><tspan class="m" dy="1.1">−</tspan><tspan dy="-1.1">8.664</tspan></text>
<text x="276.25 285.05 291.25 294.25 299.85 305.65" y="492.47"><tspan class="m" dy="1.1">−</tspan><tspan dy="-1.1">0.815</tspan></text>
<text x="344.05 352.25 358.05 361.05 367.25 373.2" y="492.47"><tspan class="m" dy="1.1">−</tspan><tspan dy="-1.1">1.067</tspan></text>
<text x="408.75 417.55 423.75 426.75 432.95 438.55" y="492.47"><tspan class="m" dy="1.1">−</tspan><tspan dy="-1.1">0.951</tspan></text>
<text x="478.65 487.45 493.65 496.05 501.85 508.05" y="492.47"><tspan class="m" dy="1.1">−</tspan><tspan dy="-1.1">0.189</tspan></text>
<text x="550.85 559.05 565.25 568.25 574.2 580.15" y="492.47">+0.878</text>
<text x="621.55 627.5 633.45 639.65" y="492.47">5760</text>
<text x="24.75 30.95 37.15 43.35" y="507.63">3300</text>
<text x="78.45 87.25 93.45 96.45 102.4 108.35" y="507.63"><tspan class="m" dy="1.1">−</tspan><tspan dy="-1.1">0.878</tspan></text>
<text x="144.85 153.05 158.85 161.85 168.05 174.25" y="507.63"><tspan class="m" dy="1.1">−</tspan><tspan dy="-1.1">1.086</tspan></text>
<text x="212.15 220.95 227.15 229.55 235.35 241.55" y="507.63"><tspan class="m" dy="1.1">−</tspan><tspan dy="-1.1">8.186</tspan></text>
<text x="276.25 285.05 291.25 294 299.7 305.05" y="507.63"><tspan class="m" dy="1.1">−</tspan><tspan dy="-1.1">0.771</tspan></text>
<text x="343.05 351.85 358.05 361.05 367.25 373.45" y="507.63"><tspan class="m" dy="1.1">−</tspan><tspan dy="-1.1">0.942</tspan></text>
<text x="408.75 417.55 423.75 426.75 432.95 439.15" y="507.63"><tspan class="m" dy="1.1">−</tspan><tspan dy="-1.1">0.809</tspan></text>
<text x="478.65 487.45 493.65 496.65 502.85 509.05" y="507.63"><tspan class="m" dy="1.1">−</tspan><tspan dy="-1.1">0.054</tspan></text>
<text x="550.85 559.05 565.25 568.25 574.45 580.65" y="507.63">+0.888</text>
<text x="621.05 627.25 633.45 639.65" y="507.63">5940</text>
<text x="24.75 30.95 37.15 43.35" y="523.66">3400</text>
<text x="78.45 87.25 93.45 96.45 102.65 108.85" y="523.66"><tspan class="m" dy="1.1">−</tspan><tspan dy="-1.1">0.664</tspan></text>
<text x="143.85 152.65 158.85 161.85 168.05 174.25" y="523.66"><tspan class="m" dy="1.1">−</tspan><tspan dy="-1.1">0.846</tspan></text>
<text x="212.65 221.2 227.15 229.9 235.85 242.05" y="523.66"><tspan class="m" dy="1.1">−</tspan><tspan dy="-1.1">7.736</tspan></text>
<text x="276.25 285.05 291.25 294 299.95 306.15" y="523.66"><tspan class="m" dy="1.1">−</tspan><tspan dy="-1.1">0.729</tspan></text>
<text x="343.05 351.85 358.05 361.05 367.25 373.45" y="523.66"><tspan class="m" dy="1.1">−</tspan><tspan dy="-1.1">0.824</tspan></text>
<text x="408.75 417.55 423.75 426.75 432.7 438.65" y="523.66"><tspan class="m" dy="1.1">−</tspan><tspan dy="-1.1">0.674</tspan></text>
<text x="479.25 487.45 493.65 496.65 502.6 507.95" y="523.66">+0.071</text>
<text x="550.85 559.05 565.25 568.25 574.45 580.65" y="523.66">+0.895</text>
<text x="622.05 627.65 633.45 639.65" y="523.66">6120</text>
<text x="24.75 30.95 37.15 43.35" y="538.6">3500</text>
<text x="78.45 87.25 93.45 96.45 102.65 108.85" y="538.6"><tspan class="m" dy="1.1">−</tspan><tspan dy="-1.1">0.462</tspan></text>
<text x="143.85 152.65 158.85 161.85 168.05 174.25" y="538.6"><tspan class="m" dy="1.1">−</tspan><tspan dy="-1.1">0.620</tspan></text>
<text x="212.65 221.2 227.15 230.15 235.75 241.55" y="538.6"><tspan class="m" dy="1.1">−</tspan><tspan dy="-1.1">7.312</tspan></text>
<text x="276.25 285.05 291.25 294.25 300.45 306.65" y="538.6"><tspan class="m" dy="1.1">−</tspan><tspan dy="-1.1">0.690</tspan></text>
<text x="343.05 351.85 358.05 360.8 366.15 371.95" y="538.6"><tspan class="m" dy="1.1">−</tspan><tspan dy="-1.1">0.712</tspan></text>
<text x="408.75 417.55 423.75 426.75 432.95 438.9" y="538.6"><tspan class="m" dy="1.1">−</tspan><tspan dy="-1.1">0.547</tspan></text>
<text x="479.25 487.45 493.65 496.05 501.85 508.05" y="538.6">+0.190</text>
<text x="550.85 559.05 565.25 568.25 574.45 580.65" y="538.6">+0.902</text>
<text x="621.05 627.25 633.45 639.65" y="538.6">6300</text>
</g>
<text class="t14" transform="matrix(0.821 0 0 1 21.88 537.20)">Source:</text>
<text class="t15" transform="matrix(0.862 0 0 1 56.50 537.20)">Based</text>
<text class="t15" transform="matrix(0.894 0 0 1 85.63 537.20)">on</text>
<text class="t15" transform="matrix(0.903 0 0 1 99.71 537.20)">data</text>
<text class="t15" transform="matrix(0.843 0 0 1 122.14 537.20)">from</text>
<text class="t15" transform="matrix(0.878 0 0 1 144.98 537.20)">the</text>
<text class="t15" transform="matrix(0.742 0 0 1 161.56 537.20)">JANAF</text>
<text class="t15" transform="matrix(0.859 0 0 1 188.99 537.20)">Thermochemical</text>
<text class="t15" transform="matrix(0.825 0 0 1 261.79 537.20)">Tables,</text>
<text class="t15" transform="matrix(0.835 0 0 1 295.21 537.20)">NSRDS-NBS-37,</text>
<text class="t15" transform="matrix(0.783 0 0 1 364.28 537.20)">1971.</text>
</svg>
</body></html>
